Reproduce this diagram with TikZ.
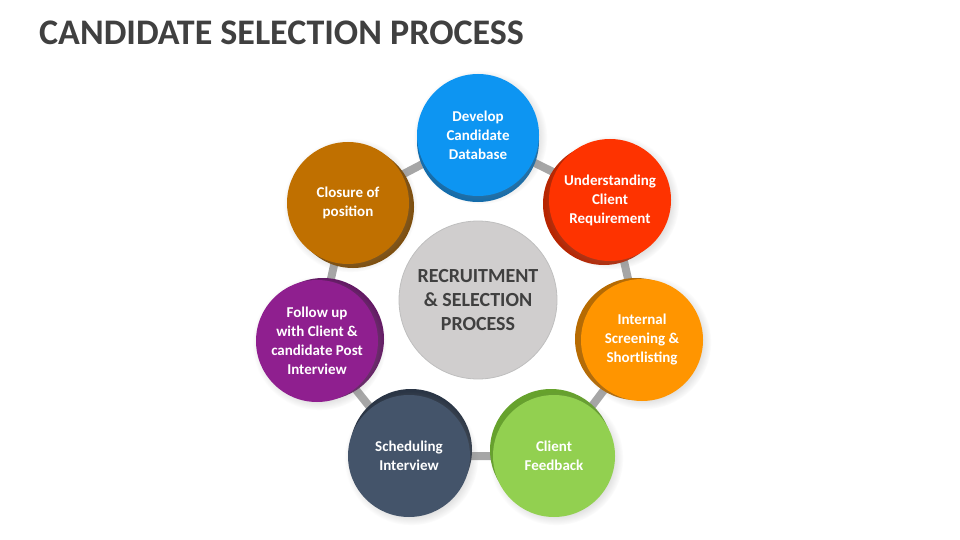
\documentclass[tikz,border=0pt]{standalone}
\usepackage{xcolor}
\usepackage{fontspec}
\setmainfont{Carlito}
\usetikzlibrary{backgrounds,shadows}

\definecolor{inkgray}{HTML}{404040}
\definecolor{hubfill}{HTML}{D0CECE}
\definecolor{hubline}{HTML}{BFBFBF}
\definecolor{linkgray}{HTML}{A6A6A6}
\definecolor{devblue}{HTML}{0D95F2}
\definecolor{devblueshade}{HTML}{0A6BB0}
\definecolor{reqred}{HTML}{FE3300}
\definecolor{reqredshade}{HTML}{B82500}
\definecolor{scrorange}{HTML}{FF9500}
\definecolor{scrorangeshade}{HTML}{B86B00}
\definecolor{fbgreen}{HTML}{92D050}
\definecolor{fbgreenshade}{HTML}{66A22C}
\definecolor{schslate}{HTML}{44546A}
\definecolor{schslateshade}{HTML}{2A3545}
\definecolor{folpurple}{HTML}{8F1F8F}
\definecolor{folpurpleshade}{HTML}{631564}
\definecolor{closbrown}{HTML}{C07000}
\definecolor{closbrownshade}{HTML}{7E4900}

\begin{document}
\begin{tikzpicture}[x=1pt,y=-1pt,
    stagedisc/.style={circle, minimum size=122pt, inner sep=0pt, align=center,
        text=white, font=\bfseries\fontsize{15}{19}\selectfont,
        circular drop shadow={shadow xshift=2pt, shadow yshift=-2pt, opacity=.25}},
    stageshade/.style={circle, minimum size=122pt, inner sep=0pt},
    ringlink/.style={line width=8pt, draw=linkgray}
    ]
    \useasboundingbox (0,0) rectangle (960,540);

    % title
    \node[anchor=base west, inner sep=0pt, text=inkgray,
          font=\bfseries\fontsize{36}{42}\selectfont] (title) at (39,45) {CANDIDATE SELECTION PROCESS};

    % centre circle
    \node[circle, minimum size=158pt, inner sep=0pt, fill=hubfill, draw=hubline,
          line width=0.8pt, align=center, text=inkgray,
          font=\bfseries\fontsize{20}{24}\selectfont] (hub) at (478,300)
          {RECRUITMENT\\\& SELECTION\\PROCESS};

    % darker discs behind each stage
    \node[stageshade, fill=devblueshade] (devshade) at (478,141) {};
    \node[stageshade, fill=reqredshade] (reqshade) at (604,204) {};
    \node[stageshade, fill=scrorangeshade] (scrshade) at (636,339) {};
    \node[stageshade, fill=fbgreenshade] (fbshade) at (551,450) {};
    \node[stageshade, fill=schslateshade] (schshade) at (411,450) {};
    \node[stageshade, fill=folpurpleshade] (folshade) at (323,339) {};
    \node[stageshade, fill=closbrownshade] (closshade) at (353,207) {};

    % stages
    \node[stagedisc, fill=devblue] (dev) at (478,135) {Develop\\Candidate\\Database};
    \node[stagedisc, fill=reqred] (req) at (610,200) {Understanding\\Client\\Requirement};
    \node[stagedisc, fill=scrorange] (scr) at (642,340) {Internal\\Screening \&\\Shortlisting};
    \node[stagedisc, fill=fbgreen] (fb) at (554,456) {Client\\Feedback};
    \node[stagedisc, fill=schslate] (sch) at (409,456) {Scheduling\\Interview};
    \node[stagedisc, fill=folpurple] (fol) at (317,341) {Follow up\\with Client \&\\candidate Post\\Interview};
    \node[stagedisc, fill=closbrown] (clos) at (348,203) {Closure of\\position};

    % ring behind the stages
    \begin{scope}[on background layer]
        \draw[ringlink] (dev.center) -- (req.center) -- (scr.center) -- (fb.center)
            -- (sch.center) -- (fol.center) -- (clos.center) -- (dev.center);
    \end{scope}
\end{tikzpicture}
\end{document}
